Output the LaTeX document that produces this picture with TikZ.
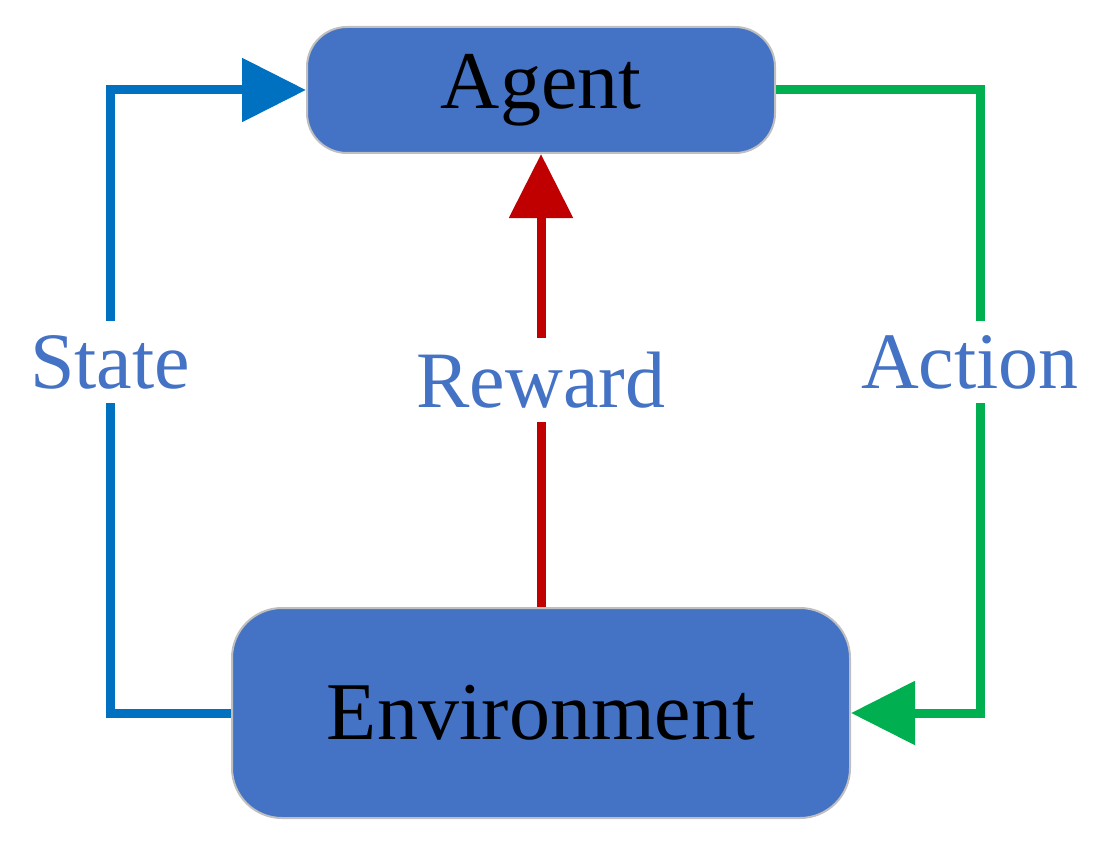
\documentclass[tikz,border=0pt]{standalone}
\usepackage{fontspec}
\setmainfont{Liberation Serif}
\usetikzlibrary{arrows.meta}
\definecolor{boxc}{HTML}{4472C4}
\definecolor{sblue}{HTML}{0070C0}
\definecolor{agreen}{HTML}{00B050}
\definecolor{rred}{HTML}{C00000}
\begin{document}
\begin{tikzpicture}[x=1pt,y=-1pt,
  box/.style={draw=black!25,line width=2pt,fill=boxc,font=\fontsize{82}{84}\selectfont},
  lab/.style={fill=white,text=boxc,inner xsep=4pt,inner ysep=14pt,font=\fontsize{80}{82}\selectfont},
  conn/.style={line width=9pt,-{Triangle[length=64pt,width=62pt]}}]
\useasboundingbox (0,0) rectangle (1102,853);
\node[box,rounded corners=40pt,minimum width=468pt,minimum height=126pt] (agent) at (541,90) {Agent};
\node[box,rounded corners=50pt,minimum width=618pt,minimum height=210pt] (env) at (541,713) {Environment};
\coordinate (sc) at (110,90);
\coordinate (ac) at (980,90);
\draw[conn,sblue] (env.west) -| (sc) -- (agent.west);
\draw[conn,agreen] (agent.east) -| (ac) |- (env.east);
\draw[conn,rred] (env.north) -- (agent.south);
\node[lab] (state) at (110,362) {State};
\node[lab] (action) at (970,362) {Action};
\node[lab] (reward) at (541,380) {Reward};
\end{tikzpicture}
\end{document}
